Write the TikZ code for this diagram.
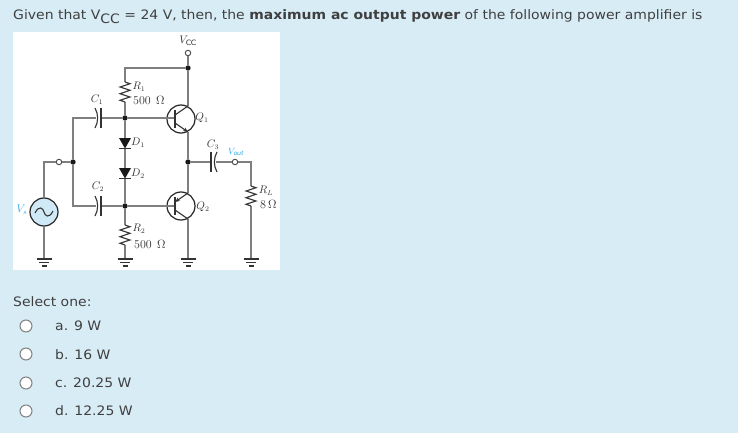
\documentclass[tikz,border=0pt]{standalone}
\usepackage{fontspec}
\setmainfont[FakeStretch=1.075]{DejaVu Sans}
\usepackage{xcolor}
\usetikzlibrary{positioning, arrows.meta, calc}

\definecolor{pagebg}{HTML}{D8ECF6}
\definecolor{wiregray}{HTML}{7F7F7F}
\definecolor{textgray}{HTML}{3F3F3F}
\definecolor{srcfill}{HTML}{CFEAF6}
\definecolor{labelblue}{HTML}{2FA8E6}

\tikzset{
  wire/.style={draw=wiregray, line width=1.2pt},
  part/.style={draw=black!80, line width=1.1pt},
  dot/.style={circle, fill=black!90, inner sep=0pt, minimum size=5.4pt},
  opendot/.style={circle, draw=black!70, fill=white, line width=0.9pt, inner sep=0pt, minimum size=5.5pt},
  tran/.style={circle, draw=black!85, line width=1.2pt, inner sep=0pt, minimum size=28pt},
  src/.style={circle, draw=black!85, fill=srcfill, line width=1.2pt, inner sep=0pt, minimum size=28pt},
  lab/.style={inner sep=0pt, text=black!80, font=\fontsize{10.5}{12}\selectfont},
  val/.style={lab, anchor=west, font=\fontsize{12.5}{13}\selectfont},
  qtext/.style={inner sep=0pt, anchor=west, text=textgray, font=\fontsize{13}{15}\selectfont},
  radio/.style={circle, draw=gray, fill=white, line width=1pt, inner sep=0pt, minimum size=12pt},
  pics/res/.style={code={
    \draw[part] (0,0) -- (5,1.7) -- (-5,5) -- (5,8.3) -- (-5,11.7) -- (5,15) -- (-5,18.3) -- (0,20);
  }},
  pics/gnd/.style={code={
    \draw[part] (-7.5,0) -- (7.5,0);
    \draw[part] (-5,3.5) -- (5,3.5);
    \draw[part] (-2.5,7) -- (2.5,7);
  }},
  pics/dio/.style={code={
    \fill[black!90] (-6,0) -- (6,0) -- (0,10.5) -- cycle;
    \draw[part] (-6,10.5) -- (6,10.5);
  }},
  pics/cap/.style={code={
    \draw[part] (2.5,-10) -- (2.5,10);
    \draw[part] (-3.5,-10) .. controls (0,-4) and (0,4) .. (-3.5,10);
  }},
}

\begin{document}
\begin{tikzpicture}[x=1pt, y=-1pt]
\useasboundingbox[fill=pagebg] (0,0) rectangle (738,433);
\fill[white] (13,32) rectangle (280,270);

% question text
\node[qtext] (title) at (13,16.5) {Given that V\raisebox{-4pt}{CC} = 24 V, then, the \textbf{maximum ac output power} of the following power amplifier is};
\node[qtext] (select) at (13,302) {Select one:};
\node[radio] (ra) at (26,326) {};
\node[radio] (rb) at (26,354) {};
\node[radio] (rc) at (26,383) {};
\node[radio] (rd) at (26,411) {};
\node[qtext] (opta) at (55,326) {a. 9 W};
\node[qtext] (optb) at (55,355) {b. 16 W};
\node[qtext] (optc) at (55,383) {c. 20.25 W};
\node[qtext] (optd) at (55,411) {d. 12.25 W};

% junctions and free ends
\node[opendot] (vcc) at (188,53) {};
\node[dot] (top) at (188,68) {};
\coordinate (corner) at (125,68);
\coordinate (R1a) at (125,82);
\coordinate (R1b) at (125,102);
\node[dot] (j1) at (125,118) {};
\coordinate (C1l) at (96,118);
\coordinate (C1r) at (101,118);
\coordinate (in1) at (73,118);
\node[dot] (injoin) at (73,162) {};
\coordinate (in2) at (73,206);
\node[opendot] (vin) at (59,162) {};
\coordinate (srctop) at (44,162);
\coordinate (C2l) at (96,206);
\coordinate (C2r) at (101,206);
\node[dot] (j2) at (125,206) {};
\coordinate (D1a) at (125,138);
\coordinate (D1b) at (125,148.5);
\coordinate (D2a) at (125,168);
\coordinate (D2b) at (125,178.5);
\coordinate (R2a) at (125,225);
\coordinate (R2b) at (125,245);
\node[dot] (mid) at (188,162) {};
\coordinate (C3l) at (211,162);
\coordinate (C3r) at (216,162);
\node[opendot] (vout) at (235,162) {};
\coordinate (outcorner) at (251,162);
\coordinate (RLa) at (251,186);
\coordinate (RLb) at (251,206);
\coordinate (g1) at (44,259);
\coordinate (g2) at (125,259);
\coordinate (g3) at (188,259);
\coordinate (g4) at (251,259);

% transistors
\node[tran] (Q1) at (181,119) {};
\node[tran] (Q2) at (181,206) {};
\coordinate (b1) at (175,118);
\coordinate (c1) at (188,106);
\coordinate (e1) at (188,132);
\coordinate (b2) at (175,206);
\coordinate (e2) at (188,193);
\coordinate (c2) at (188,219);
\node[src] (Vs) at (44,212) {};

% wires
\draw[wire] (vcc) -- (top);
\draw[wire] (top) -- (corner) -- (R1a);
\draw[wire] (top) -- (c1);
\draw[wire] (R1b) -- (j1) -- (D1a);
\draw[wire] (j1) -- (C1r);
\draw[wire] (C1l) -- (in1) -- (injoin) -- (in2) -- (C2l);
\draw[wire] (injoin) -- (vin) -- (srctop) -- (Vs);
\draw[wire] (Vs) -- (g1);
\draw[wire] (C2r) -- (j2);
\draw[wire] (D1b) -- (D2a);
\draw[wire] (D2b) -- (j2) -- (R2a);
\draw[wire] (R2b) -- (g2);
\draw[wire] (j1) -- (b1);
\draw[wire] (j2) -- (b2);
\draw[wire] (e1) -- (mid) -- (e2);
\draw[wire] (c2) -- (g3);
\draw[wire] (mid) -- (C3l);
\draw[wire] (C3r) -- (vout) -- (outcorner) -- (RLa);
\draw[wire] (RLb) -- (g4);

% parts
\pic at (R1a) {res};
\pic at (R2a) {res};
\pic at (RLa) {res};
\pic at (D1a) {dio};
\pic at (D2a) {dio};
\pic at (98.5,118) {cap};
\pic at (98.5,206) {cap};
\pic[xscale=-1] at (213.5,162) {cap};
\pic at (g1) {gnd};
\pic at (g2) {gnd};
\pic at (g3) {gnd};
\pic at (g4) {gnd};
\draw[part, line width=1.6pt] (175,110) -- (175,128);
\draw[part] (175,115) -- (c1);
\draw[part, -{Stealth[length=5pt,width=4pt]}] (175,123) -- (e1);
\draw[part, line width=1.6pt] (175,197) -- (175,215);
\draw[part, {Stealth[length=5pt,width=4pt]}-] (175,202) -- (e2);
\draw[part] (175,210) -- (c2);
\draw[part] ($(Vs)+(-9,1)$) .. controls ($(Vs)+(-5,-7)$) and ($(Vs)+(-1,-4)$) .. ($(Vs)+(0,0)$) .. controls ($(Vs)+(1,4)$) and ($(Vs)+(5,7)$) .. ($(Vs)+(9,-1)$);

% labels
\node[lab] (lvcc) at (188,41) {$V_{\mathrm{CC}}$};
\node[lab] (lc1) at (97,100) {$C_1$};
\node[lab] (lc2) at (98,187) {$C_2$};
\node[lab] (lc3) at (213,145) {$C_3$};
\node[lab] (lr1) at (139,87) {$R_1$};
\node[val] (lr1v) at (133,100) {$500\;\,\Omega$};
\node[lab] (lr2) at (139,229) {$R_2$};
\node[val] (lr2v) at (134,244) {$500\;\,\Omega$};
\node[lab] (lrl) at (266,191) {$R_L$};
\node[val] (lrlv) at (260,204) {$8\,\Omega$};
\node[lab] (ld1) at (138,143) {$D_1$};
\node[lab] (ld2) at (138,174) {$D_2$};
\node[lab] (lq1) at (202,118) {$Q_1$};
\node[lab] (lq2) at (203,207) {$Q_2$};
\node[lab, text=labelblue] (lvs) at (22,210) {$V_s$};
\node[lab, text=labelblue, font=\fontsize{9}{10}\selectfont] (lvout) at (236,152) {$V_{\mathit{out}}$};
\end{tikzpicture}
\end{document}
